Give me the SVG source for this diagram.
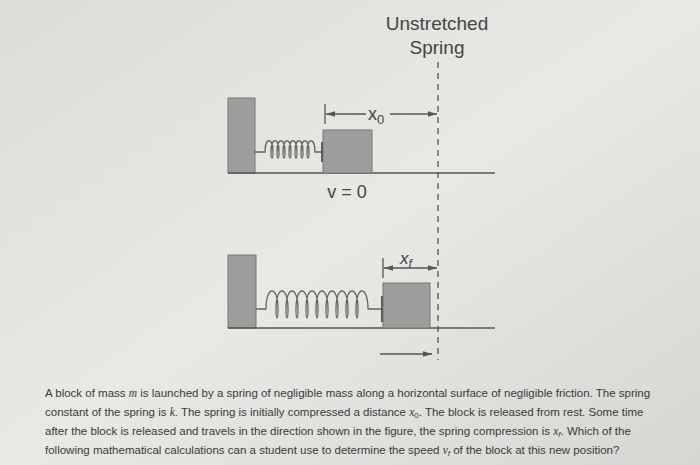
<svg xmlns="http://www.w3.org/2000/svg" width="700" height="465" viewBox="0 0 700 465">
<defs>
<linearGradient id="bg" x1="0" y1="0" x2="1" y2="1"><stop offset="0" stop-color="#dcdcd8"/><stop offset="0.5" stop-color="#e8e8e4"/><stop offset="1" stop-color="#d6d6d2"/></linearGradient>
<marker id="ah" viewBox="0 0 10 10" refX="10" refY="5" markerWidth="7" markerHeight="7" orient="auto-start-reverse"><path d="M0,2 L10,5 L0,8 z" fill="#555"/></marker>
<style>
.wall,.blk{fill:#9d9d9b;stroke:#777;stroke-width:1}
.floor{stroke:#555;stroke-width:1.5}
.spr{fill:none;stroke:#666;stroke-width:1.3}
.dim{stroke:#555;stroke-width:1.3}
.lbl{font-family:"Liberation Sans",Arial,sans-serif;fill:#444}
.txt{font-family:"Liberation Sans",Arial,sans-serif;fill:#3a3a3a;font-size:11.5px}
</style>
</defs>
<rect width="700" height="465" fill="url(#bg)"/>
<g id="title"><text class="lbl" x="437" y="30" font-size="19" text-anchor="middle">Unstretched</text><text class="lbl" x="437" y="54" font-size="19" text-anchor="middle">Spring</text></g>
<g id="dashed"><line x1="438" y1="62" x2="438" y2="360" stroke="#555" stroke-width="1.3" stroke-dasharray="6,5"/></g>
<g id="top">
<rect class="wall" x="228" y="98" width="27" height="75"/>
<line class="floor" x1="228" y1="173" x2="495" y2="173"/>
<path class="spr" d="M255,152 H265 c0,-15 8,-15 8,0 c0,8 -2,8 -2,0 c0,-15 8,-15 8,0 c0,8 -2,8 -2,0 c0,-15 8,-15 8,0 c0,8 -2,8 -2,0 c0,-15 8,-15 8,0 c0,8 -2,8 -2,0 c0,-15 8,-15 8,0 c0,8 -2,8 -2,0 c0,-15 8,-15 8,0 c0,8 -2,8 -2,0 c0,-15 8,-15 8,0 c0,8 -2,8 -2,0 c0,-15 8,-15 8,0 H322"/>
<line x1="322" y1="142" x2="322" y2="162" stroke="#555" stroke-width="2"/>
<rect class="blk" x="323" y="130" width="49" height="43"/>
<text class="lbl" x="347" y="198" font-size="18" text-anchor="middle">v = 0</text>
</g>
<g id="bottom">
<rect class="wall" x="228" y="255" width="28" height="73"/>
<line class="floor" x1="228" y1="328" x2="495" y2="328"/>
<path class="spr" d="M256,309 H266 c0,-24 12,-24 12,0 c0,12 -2,12 -2,0 c0,-24 12,-24 12,0 c0,12 -2,12 -2,0 c0,-24 12,-24 12,0 c0,12 -2,12 -2,0 c0,-24 12,-24 12,0 c0,12 -2,12 -2,0 c0,-24 12,-24 12,0 c0,12 -2,12 -2,0 c0,-24 12,-24 12,0 c0,12 -2,12 -2,0 c0,-24 12,-24 12,0 c0,12 -2,12 -2,0 c0,-24 12,-24 12,0 c0,12 -2,12 -2,0 c0,-24 12,-24 12,0 c0,12 -2,12 -2,0 c0,-24 12,-24 12,0 H382"/>
<line x1="382" y1="296" x2="382" y2="322" stroke="#555" stroke-width="2"/>
<rect class="blk" x="383" y="283" width="47" height="45"/>
</g>
<g id="connectors">
<line class="dim" x1="325" y1="104" x2="325" y2="124"/>
<line class="dim" x1="326" y1="114" x2="366" y2="114" marker-start="url(#ah)"/>
<line class="dim" x1="390" y1="114" x2="437" y2="114" marker-end="url(#ah)"/>
<line class="dim" x1="383" y1="258" x2="383" y2="278"/>
<line class="dim" x1="384" y1="268" x2="437" y2="268" marker-start="url(#ah)" marker-end="url(#ah)"/>
<line class="dim" x1="380" y1="354" x2="432" y2="354" marker-end="url(#ah)"/>
</g>
<g id="labels">
<text class="lbl" x="368" y="120" font-size="18">x<tspan font-size="13" dy="4">0</tspan></text>
<text class="lbl" x="400" y="264" font-size="17" font-style="italic">x<tspan font-size="12" dy="4">f</tspan></text>
</g>
<g id="question">
<text class="txt" x="45" y="397">A block of mass <tspan font-family="Liberation Serif" font-style="italic">m</tspan> is launched by a spring of negligible mass along a horizontal surface of negligible friction. The spring</text>
<text class="txt" x="45" y="416">constant of the spring is <tspan font-family="Liberation Serif" font-style="italic">k</tspan>. The spring is initially compressed a distance <tspan font-family="Liberation Serif" font-style="italic">x</tspan><tspan font-size="8" dy="2">0</tspan><tspan dy="-2">. The block is released from rest. Some time</tspan></text>
<text class="txt" x="45" y="435">after the block is released and travels in the direction shown in the figure, the spring compression is <tspan font-family="Liberation Serif" font-style="italic">x</tspan><tspan font-size="8" dy="2" font-style="italic">f</tspan><tspan dy="-2">. Which of the</tspan></text>
<text class="txt" x="45" y="454">following mathematical calculations can a student use to determine the speed <tspan font-family="Liberation Serif" font-style="italic">v</tspan><tspan font-size="8" dy="2" font-style="italic">f</tspan><tspan dy="-2"> of the block at this new position?</tspan></text>
</g>
</svg>
